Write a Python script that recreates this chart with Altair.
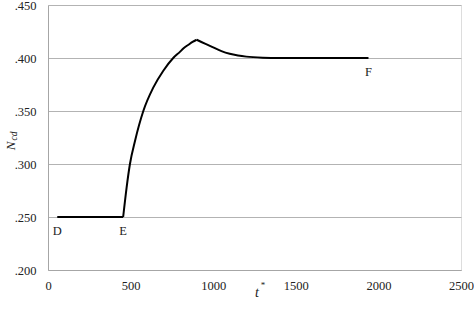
import altair as alt
import pandas as pd

seg_vals = [1, 1,
            2, 2, 2, 2, 2, 2, 2, 2, 2, 2, 2, 2, 2,
            3, 3, 3, 3, 3, 3, 3, 3, 3, 3, 3]
t_vals = [56, 455,
          455, 476, 496, 527, 577, 637, 698, 758, 800, 819, 850, 875, 900,
          900, 950, 1000, 1050, 1100, 1150, 1200, 1300, 1400, 1700, 1940]
n_vals = [0.250, 0.250,
          0.250, 0.278, 0.300, 0.322, 0.350, 0.372, 0.388, 0.400, 0.406, 0.409, 0.4125, 0.4152, 0.4172,
          0.4172, 0.4135, 0.4100, 0.4065, 0.4040, 0.4024, 0.4013, 0.4003, 0.4000, 0.4000, 0.4000]

lab_text = ["D", "E", "F"]
lab_t = [56, 455, 1940]
lab_n = [0.250, 0.250, 0.400]

df = pd.DataFrame({"seg": seg_vals, "t": t_vals, "n": n_vals})
df["order"] = range(len(df))
lab = pd.DataFrame({"label": lab_text, "t": lab_t, "n": lab_n})

FONT = "Liberation Serif"

x = alt.X("t:Q", scale=alt.Scale(domain=[0, 2500], nice=False),
          axis=alt.Axis(values=[0, 500, 1000, 1500, 2000, 2500], grid=False, ticks=False, format="d",
                        domainColor="#a6a6a6", labelFont=FONT, labelFontSize=12.5, labelColor="#222",
                        labelPadding=9, title=None, labelFlush=False))
y = alt.Y("n:Q", scale=alt.Scale(domain=[0.2, 0.45], nice=False),
          axis=alt.Axis(values=[0.2, 0.25, 0.3, 0.35, 0.4, 0.45], grid=True, gridColor="#b3b3b3",
                        ticks=False, domainColor="#a6a6a6", labelFont=FONT, labelFontSize=12.5,
                        labelColor="#222", labelPadding=12, title=None, labelFlush=False,
                        labelExpr="replace(format(datum.value, '.3f'), '0.', '.')"))

line = alt.Chart(df).mark_line(color="black", strokeWidth=2, interpolate="monotone").encode(
    x=x, y=y, detail="seg:N", order="order:Q")

labels = alt.Chart(lab).mark_text(font=FONT, fontSize=12.5, color="#222", dy=14).encode(
    x="t:Q", y="n:Q", text="label:N")

ytitle_n = alt.Chart(pd.DataFrame({"s": ["N"]})).mark_text(
    font=FONT, fontSize=13, fontStyle="italic", angle=270, color="#222").encode(
    x=alt.value(-37), y=alt.value(141), text="s:N")
ytitle_cd = alt.Chart(pd.DataFrame({"s": ["cd"]})).mark_text(
    font=FONT, fontSize=9.5, fontStyle="italic", angle=270, color="#222").encode(
    x=alt.value(-34), y=alt.value(131), text="s:N")
xtitle_t = alt.Chart(pd.DataFrame({"s": ["t"]})).mark_text(
    font=FONT, fontSize=14, fontStyle="italic", color="#222").encode(
    x=alt.value(209), y=alt.value(288), text="s:N")
xtitle_star = alt.Chart(pd.DataFrame({"s": ["*"]})).mark_text(
    font=FONT, fontSize=9, color="#222").encode(
    x=alt.value(215), y=alt.value(280), text="s:N")

chart = alt.layer(line, labels, ytitle_n, ytitle_cd, xtitle_t, xtitle_star).properties(
    width=413, height=265,
    autosize=alt.AutoSizeParams(type="none"),
    padding={"left": 48, "top": 5, "right": 13, "bottom": 40},
).configure_view(stroke="#a6a6a6", strokeWidth=1).configure_axis(
    labelFont=FONT
).configure(background="white", font=FONT)

chart.save("out.html", embed_options={"renderer": "svg", "actions": False})
